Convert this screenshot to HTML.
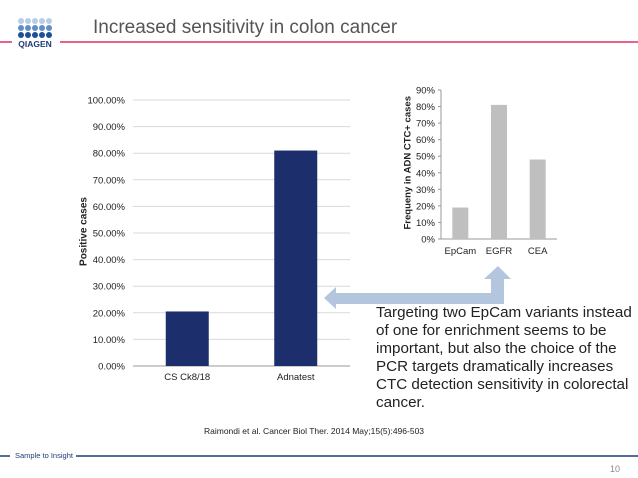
<!DOCTYPE html>
<html><head><meta charset="utf-8"><style>
body{margin:0;background:#fff;font-family:"Liberation Sans",Arial,sans-serif}
#root{position:relative;width:638px;height:478px;overflow:hidden}
.t{position:absolute;white-space:nowrap}
</style></head><body>
<div id="root">
<svg width="638" height="478" style="position:absolute;left:0;top:0">
 <g>
  <g fill="#b7cde8"><circle cx="21" cy="21" r="3"/><circle cx="28" cy="21" r="3"/><circle cx="35" cy="21" r="3"/><circle cx="42" cy="21" r="3"/><circle cx="49" cy="21" r="3"/></g>
  <g fill="#5f8fc9"><circle cx="21" cy="28" r="3"/><circle cx="28" cy="28" r="3"/><circle cx="35" cy="28" r="3"/><circle cx="42" cy="28" r="3"/><circle cx="49" cy="28" r="3"/></g>
  <g fill="#1f4f95"><circle cx="21" cy="35" r="3"/><circle cx="28" cy="35" r="3"/><circle cx="35" cy="35" r="3"/><circle cx="42" cy="35" r="3"/><circle cx="49" cy="35" r="3"/></g>
  <text x="35" y="47" font-size="8.5" font-weight="bold" fill="#1f3a78" text-anchor="middle" font-family="Liberation Sans">QIAGEN</text>
 </g>
 <line x1="0" y1="42" x2="12" y2="42" stroke="#e0305f" stroke-width="1.5"/>
 <line x1="60" y1="42" x2="638" y2="42" stroke="#e0305f" stroke-width="1.5"/>
 <line x1="0" y1="456" x2="10" y2="456" stroke="#1f3a78" stroke-width="1.5"/>
 <line x1="76" y1="456" x2="638" y2="456" stroke="#1f3a78" stroke-width="1.5"/>
 <g id="main"></g>
 <g id="small"></g>
 <path d="M324,298 L336,287 L336,293 L491,293 L491,279 L484,279 L498,266 L511,279 L504,279 L504,304 L336,304 L336,309 Z" fill="#b4c6de"/>
</svg>
<div class="t" style="left:93px;top:17px;font-size:19px;color:#555">Increased sensitivity in colon cancer</div>
<div class="t" style="left:44px;top:226px;font-size:10px;font-weight:bold;color:#222;transform:rotate(-90deg);transform-origin:center;width:80px;text-align:center">Positive cases</div>
<div class="t" style="left:343px;top:159px;font-size:9.5px;font-weight:bold;color:#222;transform:rotate(-90deg);width:130px;text-align:center">Frequeny in ADN CTC+ cases</div>
<div class="t" style="left:376px;top:304px;font-size:15.2px;line-height:18px;color:#222">Targeting two EpCam variants instead<br>of one for enrichment seems to be<br>important, but also the choice of the<br>PCR targets dramatically increases<br>CTC detection sensitivity in colorectal<br>cancer.</div>
<div class="t" style="left:204px;top:426px;font-size:8.5px;color:#222">Raimondi et al. Cancer Biol Ther. 2014 May;15(5):496-503</div>
<div class="t" style="left:15px;top:451px;font-size:7.5px;color:#1f3a78">Sample to Insight</div>
<div class="t" style="left:610px;top:464px;font-size:9px;color:#888">10</div>
</div>
<script>
const mainCats=["CS Ck8/18","Adnatest"];
const mainVals=[20.5,81];
const mainTicks=[0,10,20,30,40,50,60,70,80,90,100];
const smallCats=["EpCam","EGFR","CEA"];
const smallVals=[19,81,48];
const smallTicks=[0,10,20,30,40,50,60,70,80,90];
const NS="http://www.w3.org/2000/svg";
function mk(p,tag,a,txt){const e=document.createElementNS(NS,tag);for(const k in a)e.setAttribute(k,a[k]);if(txt!=null)e.textContent=txt;p.appendChild(e);return e;}
(function(){const g=document.getElementById('main');const x0=133,x1=350,y0=366,y1=100;
const y=v=>y0-(v/100)*(y0-y1);const bw=(x1-x0)/mainCats.length;
mainTicks.forEach(t=>{const l=mk(g,'line',{x1:x0,x2:x1,y1:y(t),y2:y(t),stroke:t?'#d9d9d9':'#999','stroke-width':1});


const tx=mk(g,'text',{x:x0-8,y:y(t)+3.5,'font-size':9.5,'text-anchor':'end',fill:'#222','font-family':'Liberation Sans'},t.toFixed(2)+'%');

});
mainCats.forEach((c,i)=>{const cx=x0+bw*(i+0.5);
const r=mk(g,'rect',{x:cx-21.5,y:y(mainVals[i]),width:43,height:y0-y(mainVals[i]),fill:'#1c2e6b'});


const tx=mk(g,'text',{x:cx,y:y0+14,'font-size':9.5,'text-anchor':'middle',fill:'#222','font-family':'Liberation Sans'},c);

});})();
(function(){const g=document.getElementById('small');const x0=441,x1=557,y0=239,y1=90;
const y=v=>y0-(v/90)*(y0-y1);const bw=(x1-x0)/smallCats.length;
smallTicks.forEach(t=>{const l=mk(g,'line',{x1:x0-3,x2:t?x0:x1,y1:y(t),y2:y(t),stroke:'#999','stroke-width':1});


const tx=mk(g,'text',{x:x0-6,y:y(t)+3.5,'font-size':9.5,'text-anchor':'end',fill:'#222','font-family':'Liberation Sans'},t+'%');

});
mk(g,'line',{x1:x0,x2:x0,y1:y1,y2:y0,stroke:'#999'});
smallCats.forEach((c,i)=>{const cx=x0+bw*(i+0.5);
const r=mk(g,'rect',{x:cx-8,y:y(smallVals[i]),width:16,height:y0-y(smallVals[i]),fill:'#bfbfbf'});


const tx=mk(g,'text',{x:cx,y:y0+15,'font-size':9.5,'text-anchor':'middle',fill:'#222','font-family':'Liberation Sans'},c);

});})();
</script>
</body></html>
